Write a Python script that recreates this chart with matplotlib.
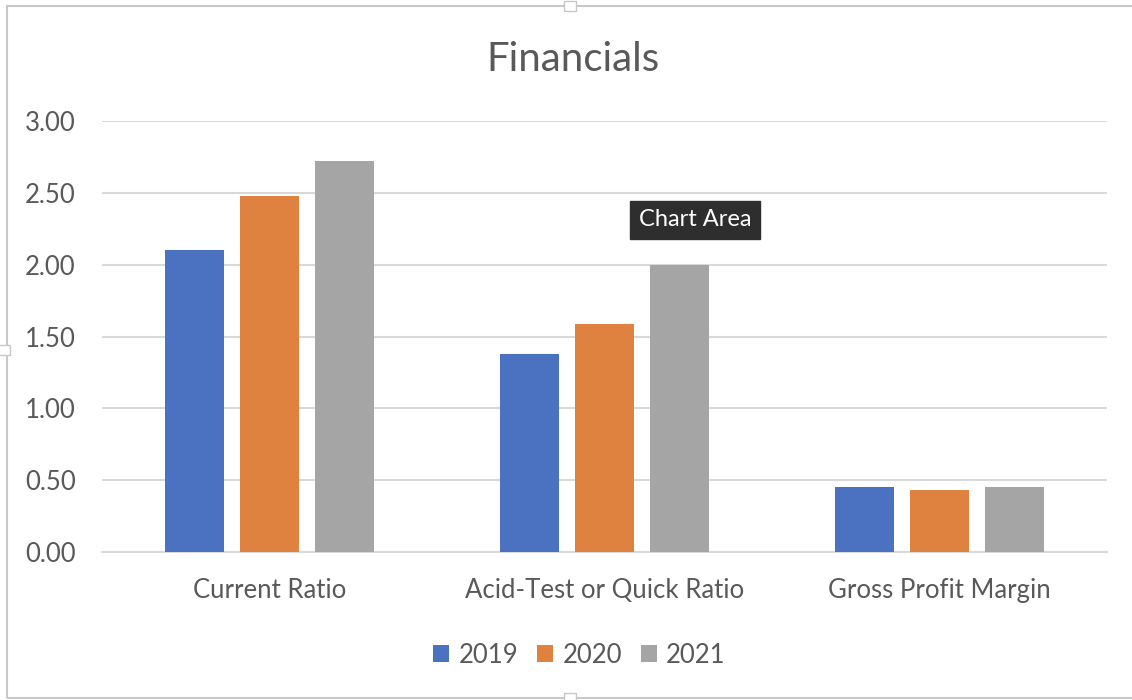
import matplotlib.pyplot as plt
from matplotlib.patches import Rectangle
import numpy as np

plt.rcParams['font.family'] = ['Lato', 'DejaVu Sans']

categories = ['Current Ratio', 'Acid-Test or Quick Ratio', 'Gross Profit Margin']
years = ['2019', '2020', '2021']
v2019 = [2.10, 1.38, 0.45]
v2020 = [2.48, 1.59, 0.43]
v2021 = [2.72, 2.00, 0.45]
yticks = [0.0, 0.5, 1.0, 1.5, 2.0, 2.5, 3.0]

colors = ['#4A72C0', '#E0823F', '#A5A5A5']
text_col = '#595959'
grid_col = '#D9D9D9'

fig = plt.figure(figsize=(11.32, 7.0), dpi=100)
ax = fig.add_axes([0.0901, 0.2114, 0.888, 0.6157])

x = np.arange(len(categories))
bw = 0.176
step = 0.224
for i, (vals, lab) in enumerate(zip([v2019, v2020, v2021], years)):
    ax.bar(x + (i - 1) * step, vals, width=bw, color=colors[i], label=lab, zorder=3)

ax.set_xlim(-0.5, 2.5)
ax.set_ylim(0, 3.0)
ax.set_yticks(yticks)
ax.set_yticklabels([f'{t:.2f}' for t in yticks])
ax.set_xticks(x)
ax.set_xticklabels(categories)
ax.tick_params(axis='both', length=0, colors=text_col, labelsize=18.5)
ax.tick_params(axis='y', pad=19)
ax.tick_params(axis='x', pad=19)
ax.grid(axis='y', color=grid_col, linewidth=1.5, zorder=0)
for s in ['top', 'right', 'left']:
    ax.spines[s].set_visible(False)
ax.spines['bottom'].set_color(grid_col)
ax.spines['bottom'].set_linewidth(1.5)

fig.text(0.506, 0.915, 'Financials', ha='center', va='center', fontsize=29, color=text_col)

leg = fig.legend(loc='center', bbox_to_anchor=(0.512, 0.064), ncol=3, frameon=False,
                 fontsize=18.5, handlelength=0.62, handleheight=0.62, handletextpad=0.35,
                 columnspacing=0.75, labelcolor=text_col)

# chart frame and selection handles
fig.patches.append(Rectangle((7 / 1132, 2 / 700), 1.2, 692 / 700, transform=fig.transFigure,
                             fill=False, edgecolor='#C8C8C8', linewidth=1.5))
for hx, hy in [(570, 694), (570, 2), (4, 350)]:
    fig.patches.append(Rectangle(((hx - 6) / 1132, (hy - 5) / 700), 12 / 1132, 10 / 700,
                                 transform=fig.transFigure, facecolor='white',
                                 edgecolor='#C8C8C8', linewidth=1.0, zorder=5))

# tooltip
fig.text(695 / 1132, 1 - 220 / 700, 'Chart Area', ha='center', va='center', fontsize=17,
         color='white', bbox=dict(boxstyle='square,pad=0.35', facecolor='#2E2E2E',
                                  edgecolor='#2E2E2E'))

fig.savefig('out.png', dpi=100)
